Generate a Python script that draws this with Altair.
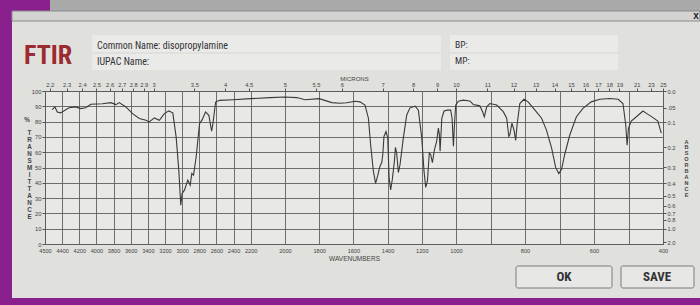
import altair as alt
import pandas as pd

# ---------------- data ----------------
wavenumbers = [4516, 4484, 4457, 4418, 4320, 4242, 4184, 4125, 4066, 3930, 3832, 3773, 3734,
               3656, 3578, 3500, 3422, 3383, 3324, 3266, 3207, 3156, 3109, 3070, 3039, 3016,
               3000, 2973, 2934, 2906, 2887, 2867, 2836, 2797, 2766, 2727, 2688, 2656, 2641,
               2609, 2563, 2406, 2203, 2087, 2000, 1931, 1882, 1800, 1726, 1678, 1639, 1590,
               1561, 1532, 1512, 1499, 1483, 1470, 1458, 1444, 1434, 1428, 1421, 1409, 1399,
               1391, 1382, 1372, 1360, 1354, 1347, 1337, 1327, 1308, 1288, 1269, 1239, 1220,
               1200, 1187, 1177, 1167, 1156, 1148, 1138, 1126, 1113, 1103, 1097, 1093, 1083,
               1070, 1050, 1031, 1023, 1015, 1010, 1002, 993, 979, 960, 950, 931, 923, 918,
               911, 902, 882, 863, 853, 847, 844, 838, 832, 827, 823, 815, 803, 791, 771, 752,
               738, 723, 711, 702, 694, 685, 670, 651, 632, 608, 583, 554, 530, 516, 508, 504,
               500, 492, 477, 458, 448, 429, 415, 405]
transmittance = [87.8, 89.6, 86.3, 85.7, 89.1, 89.6, 88.5, 89.1, 91.3, 91.7, 92.4, 91.1, 92.4,
                 89.6, 85.2, 82.0, 80.9, 79.8, 82.4, 80.9, 85.2, 87.0, 85.7, 70.0, 48.3, 25.4,
                 33.0, 35.2, 41.7, 38.5, 46.1, 45.0, 57.0, 78.7, 81.3, 86.3, 84.1, 73.7, 78.7,
                 92.8, 93.9, 94.3, 95.0, 95.7, 96.1, 95.7, 94.3, 95.0, 92.4, 92.0, 92.3, 93.3,
                 92.9, 90.8, 82.2, 64.9, 47.7, 39.6, 44.5, 51.0, 53.1, 58.5, 70.3, 73.5, 69.2,
                 43.4, 35.3, 42.4, 54.2, 63.2, 59.6, 46.7, 52.0, 69.2, 84.3, 89.0, 90.1, 87.5,
                 69.2, 47.7, 37.0, 41.3, 59.6, 58.5, 53.1, 61.7, 67.1, 75.7, 71.4, 60.6, 82.2,
                 86.9, 87.5, 87.5, 82.2, 63.9, 75.7, 90.8, 93.3, 94.0, 93.5, 91.2, 90.3, 86.5, 83.2,
                 89.7, 91.8, 90.8, 86.5, 82.2, 70.3, 71.4, 78.9, 74.6, 67.7, 77.8, 91.8, 94.6, 92.9,
                 87.5, 82.2, 74.6, 62.8, 49.9, 46.0, 48.8, 58.5, 71.4, 83.2, 88.6, 92.9, 94.6,
                 95.1, 94.6, 91.8, 77.8, 64.5, 75.7, 80.4, 83.2, 86.9, 85.4, 82.6, 80.4, 72.5]

bottom_ticks = [4600, 4400, 4200, 4000, 3800, 3600, 3400, 3200, 3000, 2800, 2600, 2400, 2200,
                2000, 1800, 1600, 1400, 1200, 1000, 900, 800, 700, 600, 500, 400]
microns = [2.2, 2.3, 2.4, 2.5, 2.6, 2.7, 2.8, 2.9, 3, 3.5, 4, 4.5, 5, 5.5, 6, 7, 8, 9, 10,
           11, 12, 13, 14, 15, 16, 17, 18, 19, 21, 23, 25]
absorbance = [0, 0.05, 0.1, 0.2, 0.3, 0.4, 0.5, 0.6, 0.7, 0.8, 1.0, 2.0]
pct_ticks = [0, 10, 20, 30, 40, 50, 60, 70, 80, 90, 100]

spec = pd.DataFrame({"wn": wavenumbers, "T": transmittance})
micron_pos = [10000.0 / m for m in microns]
absorb_pos = [100.0 * 10 ** (-a) for a in absorbance]

W, H = 618, 153
NARROW = "Liberation Sans Narrow, Roboto Condensed, Roboto, sans-serif"
SMALL = "Liberation Sans, Arial, sans-serif"
INK = "#3a3a3a"
GRID = "#606060"

xscale = alt.Scale(domain=[4600, 2200, 1000, 400], range=[0, 205.7, 411, W], zero=False, nice=False)
yscale = alt.Scale(domain=[0, 100], zero=False, nice=False)

line = alt.Chart(spec).mark_line(color=INK, strokeWidth=1.1).encode(
    x=alt.X("wn:Q", scale=xscale, axis=alt.Axis(
        orient="bottom", values=bottom_ticks, format="d",
        labelExpr="datum.value == 4600 ? '4500' : (indexof([900, 700, 500], datum.value) >= 0 ? '' : datum.label)",
        grid=True, gridColor=GRID, gridWidth=0.9, gridOpacity=1, domain=False,
        tickSize=0, labelPadding=4, labelFontSize=5.6, labelFont=SMALL, labelColor="#444",
        labelOverlap=False, labelFlush=False,
        title="WAVENUMBERS", titleFontSize=6.5, titleFont=SMALL, titleFontWeight="normal",
        titleColor="#444", titlePadding=2)),
    y=alt.Y("T:Q", scale=yscale, axis=alt.Axis(
        orient="left", values=pct_ticks, grid=True, gridColor=GRID, gridWidth=0.9,
        gridOpacity=1, domain=False, tickSize=3, tickColor="#555", labelPadding=1,
        labelFontSize=5.8, labelFont=SMALL, labelColor="#444",
        title=["T", "R", "A", "N", "S", "M", "I", "T", "T", "A", "N", "C", "E"],
        titleAngle=0, titleX=-16, titleY=38, titleAlign="center", titleBaseline="top",
        titleFontSize=6.3, titleLineHeight=7.05, titleFont=SMALL, titleFontWeight="bold",
        titleColor="#444")),
)

top_axis = alt.Chart(spec).mark_line(strokeOpacity=0).encode(
    x=alt.X("wn:Q", scale=xscale, axis=alt.Axis(
        orient="top", values=micron_pos, labelExpr="format(10000 / datum.value, '.2~f')",
        grid=False, domain=False, tickSize=3, tickColor="#555", labelPadding=1,
        labelFontSize=5.8, labelFont=SMALL, labelColor="#444", labelOverlap=False,
        labelFlush=False, title="MICRONS", titleFontSize=6, titleFont=SMALL,
        titleFontWeight="normal", titleColor="#444", titlePadding=0)),
    y=alt.Y("T:Q", scale=yscale, axis=None),
)

right_axis = alt.Chart(spec).mark_line(strokeOpacity=0).encode(
    x=alt.X("wn:Q", scale=xscale, axis=None),
    y=alt.Y("T:Q", scale=yscale, axis=alt.Axis(
        orient="right", values=absorb_pos,
        labelExpr="format(abs(log(datum.value / 100) / LN10), '.2f') == '0.05' ? '.05' : format(abs(log(datum.value / 100) / LN10), '.1f')",
        grid=False, domain=False, tickSize=3, tickColor="#555", labelPadding=1,
        labelFontSize=5.8, labelFont=SMALL, labelColor="#444", labelOverlap=False,
        labelFlush=False,
        title=["A", "B", "S", "O", "R", "B", "A", "N", "C", "E"], titleAngle=0,
        titleX=23, titleY=48, titleAlign="center", titleBaseline="top",
        titleFontSize=5.5, titleLineHeight=5.9, titleFont=SMALL, titleFontWeight="bold",
        titleColor="#444")),
)

one = alt.Data(values=[{}])


def box(x1, x2, y1, y2, fill, stroke=None, radius=0):
    kw = dict(fill=fill, cornerRadius=radius)
    if stroke:
        kw.update(stroke=stroke, strokeWidth=1)
    return alt.Chart(one).mark_rect(**kw).encode(
        x=alt.value(x1 - 45), x2=alt.value(x2 - 45), y=alt.value(y1 - 91), y2=alt.value(y2 - 91))


def label(txt, x, y, size, color="#333", weight="normal", font=NARROW, align="left", baseline="alphabetic"):
    return alt.Chart(one).mark_text(text=txt, fontSize=size, color=color, fontWeight=weight,
                                    font=font, align=align, baseline=baseline).encode(
        x=alt.value(x - 45), y=alt.value(y - 91))


frame = [
    box(0, 700, 0, 11, "#a9a9a9"),
    box(0, 50, 0, 11, "#8a1f8e"),
    box(0, 12, 0, 305, "#8a1f8e"),
    box(0, 700, 298, 305, "#8a1f8e"),
    box(12, 700, 11, 21, "#d3d3d1", "#8a8a8a"),
    box(92, 441, 35, 52, "#eaeae8"),
    box(92, 441, 54, 70, "#eaeae8"),
    box(450, 618, 35, 52, "#eaeae8"),
    box(450, 618, 54, 70, "#eaeae8"),
    box(516, 612, 266, 288, "#e7e7e5", "#7a7a7a", 2),
    box(621, 694, 266, 288, "#e7e7e5", "#7a7a7a", 2),
    label("FTIR", 24, 64, 26, color="#9c2b30", weight="bold"),
    label("Common Name:  disopropylamine", 97, 49, 10),
    label("IUPAC Name:", 97, 65, 10),
    label("BP:", 455, 48, 9.5),
    label("MP:", 455, 64, 9.5),
    label("OK", 564, 277, 13, weight="bold", align="center", baseline="middle"),
    label("SAVE", 657, 277, 13, weight="bold", align="center", baseline="middle"),
    label("x", 696, 16, 10, color="#222", weight="bold", font=SMALL, align="center", baseline="middle"),
    label("%", 27, 120, 6.3, color="#444", weight="bold", font=SMALL, align="center", baseline="middle"),
]

chart = alt.layer(*frame, line, top_axis, right_axis).resolve_axis(
    x="independent", y="independent"
).properties(
    width=W, height=H,
    padding={"left": 45, "top": 91, "right": 37, "bottom": 61},
    autosize=alt.AutoSizeParams(type="none"),
    background="#e0e0dd",
).configure_view(stroke="#555", strokeWidth=1, fill="#e8e8e5")

chart.save("out.html", embed_options={"renderer": "svg", "actions": False})
